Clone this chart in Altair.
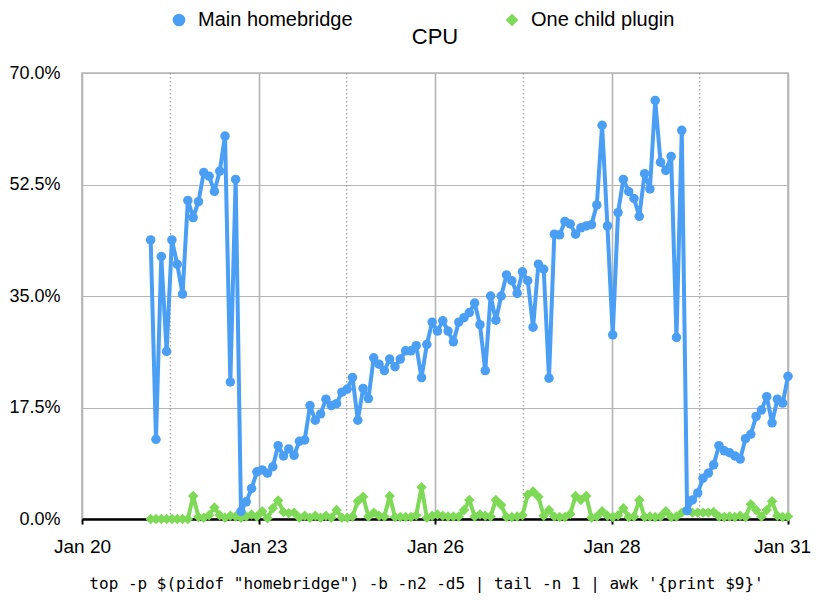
import altair as alt
import pandas as pd

# ---- data ----
series_names = ["Main homebridge", "One child plugin"]
series_colors = ["#4A9FF5", "#7ED957"]

# samples: first sample ~Jan 21 01:40, one sample every ~2 hours up to Jan 31 00:00
start_day = 1.07          # days after Jan 20 00:00
step_day = 0.08275        # ~2 hours

main_cpu = [
    43.8, 12.5, 41.2, 26.3, 43.8, 40.0, 35.3, 50.0, 47.3, 49.8,
    54.4, 53.8, 51.4, 54.6, 60.1, 21.5, 53.3, 1.2, 2.7, 4.8,
    7.4, 7.7, 7.2, 8.2, 11.5, 9.9, 11.0, 10.0, 12.2, 12.4,
    17.8, 15.5, 16.5, 18.8, 17.8, 18.1, 19.9, 20.4, 22.2, 15.5,
    20.5, 18.9, 25.3, 24.3, 23.3, 25.1, 23.9, 25.1, 26.4, 26.4,
    27.2, 22.2, 27.4, 30.9, 29.5, 31.1, 29.5, 27.8, 30.9, 31.6,
    32.4, 33.9, 30.5, 23.3, 35.0, 31.2, 35.0, 38.3, 37.4, 35.4,
    38.8, 37.4, 30.1, 40.0, 39.2, 22.1, 44.7, 44.6, 46.7, 46.3,
    44.7, 45.7, 46.0, 46.2, 49.3, 61.8, 46.0, 28.9, 48.1, 53.3,
    51.4, 50.3, 47.5, 54.2, 51.8, 65.7, 56.0, 54.7, 56.9, 28.5,
    61.0, 1.3, 3.0, 4.1, 6.4, 7.2, 8.5, 11.5, 10.7, 10.4,
    9.9, 9.4, 12.6, 13.3, 16.1, 17.1, 19.2, 15.1, 18.8, 18.2,
    22.4,
]

child_cpu = [
    0.0, 0.0, 0.0, 0.0, 0.0, 0.0, 0.0, 0.0, 3.6, 0.3,
    0.2, 0.6, 1.8, 0.6, 0.2, 0.5, 0.4, 0.2, 0.4, 0.7,
    0.4, 1.2, 0.1, 1.7, 2.9, 1.1, 0.9, 1.0, 0.2, 0.5,
    0.2, 0.5, 0.2, 0.5, 0.2, 1.4, 0.2, 0.2, 0.4, 2.8,
    3.5, 0.4, 1.0, 0.5, 0.4, 3.6, 0.3, 0.3, 0.3, 0.3,
    0.6, 5.0, 0.2, 0.5, 0.7, 0.5, 0.4, 0.4, 0.4, 1.4,
    3.0, 0.4, 0.7, 0.5, 0.4, 3.0, 2.2, 0.3, 0.3, 0.4,
    0.6, 3.8, 4.3, 3.5, 0.5, 1.4, 0.4, 0.3, 0.3, 0.8,
    3.6, 3.0, 3.6, 0.2, 0.4, 1.2, 0.5, 0.3, 0.6, 1.7,
    0.3, 0.4, 3.0, 0.3, 0.4, 0.3, 0.4, 1.2, 0.3, 0.4,
    1.0, 1.4, 1.0, 1.0, 1.0, 1.0, 1.1, 0.4, 0.3, 0.4,
    0.3, 0.5, 0.3, 2.3, 1.4, 0.4, 1.4, 2.8, 0.5, 0.3,
    0.4,
]

x_tick_values = [0, 2.75, 5.5, 8.25, 11]
x_tick_labels = ["Jan 20", "Jan 23", "Jan 26", "Jan 28", "Jan 31"]
x_minor_ticks = [1.375, 4.125, 6.875, 9.625]
y_tick_values = [0, 17.5, 35, 52.5, 70]

chart_title = "CPU"
x_title = "top -p $(pidof \"homebridge\") -b -n2 -d5 | tail -n 1 | awk '{print $9}'"

# ---- build tables ----
rows = []
for name, vals in zip(series_names, [main_cpu, child_cpu]):
    for i, v in enumerate(vals):
        rows.append({"series": name, "day": start_day + i * step_day, "cpu": v})
df = pd.DataFrame(rows)
minor_df = pd.DataFrame({"day": x_minor_ticks})

label_js = "[" + ",".join("'" + s + "'" for s in x_tick_labels) + "]"

x_enc = alt.X(
    "day:Q",
    scale=alt.Scale(domain=[0, 11], nice=False, zero=False),
    axis=alt.Axis(
        values=x_tick_values,
        labelExpr=label_js + "[round(datum.value / 2.75)]",
        labelFlush=False,
        labelOffset={"condition": {"test": "datum.value >= 11", "value": -6}, "value": 0},
        title=x_title,
        titleFont="DejaVu Sans Mono",
        titleFontSize=16,
        titleFontWeight="normal",
        titleColor="#000000",
        titlePadding=19,
        titleX=344,
        labelFontSize=19,
        labelColor="#000000",
        labelPadding=13,
        tickSize=5,
        tickWidth=2,
        tickColor="#000000",
        domainColor="#000000",
        domainWidth=2.5,
        grid=True,
        gridColor="#b5b5b5",
        gridWidth=1.6,
    ),
)
y_enc = alt.Y(
    "cpu:Q",
    scale=alt.Scale(domain=[0, 70], nice=False),
    axis=alt.Axis(
        values=y_tick_values,
        labelExpr="format(datum.value, '.1f') + '%'",
        title=None,
        domain=False,
        ticks=False,
        labelFontSize=18,
        labelColor="#000000",
        labelPadding=22,
        grid=True,
        gridColor="#b5b5b5",
        gridWidth=1.2,
    ),
)
color_enc = alt.Color(
    "series:N",
    scale=alt.Scale(domain=series_names, range=series_colors),
    title=None,
)
shape_enc = alt.Shape(
    "series:N",
    scale=alt.Scale(domain=series_names, range=["circle", "diamond"]),
    title=None,
)

minor_rules = alt.Chart(minor_df).mark_rule(
    color="#8a8a8a", strokeWidth=1, strokeDash=[1.5, 2.5]
).encode(x=alt.X("day:Q"))

base = alt.Chart(df)

def series_layers(name, size):
    sub = base.transform_filter(alt.datum.series == name)
    line = sub.mark_line(strokeWidth=4, strokeJoin="round").encode(
        x=x_enc, y=y_enc, color=color_enc
    )
    pts = sub.mark_point(filled=True, opacity=1, size=size).encode(
        x=x_enc, y=y_enc, color=color_enc, shape=shape_enc
    )
    return [line, pts]

layers = [minor_rules] + series_layers(series_names[1], 110) + series_layers(series_names[0], 90)

chart = alt.layer(*layers).properties(
    width=706,
    height=446,
    title=alt.TitleParams(
        chart_title, fontSize=22, font="Liberation Sans", fontWeight="normal",
        anchor="middle", offset=-61, baseline="bottom", color="#000000",
    ),
    autosize=alt.AutoSizeParams(type="none"),
    padding={"left": 74, "top": 65, "right": 24, "bottom": 79},
).configure(
    font="Liberation Sans",
).configure_view(
    stroke="#b5b5b5", strokeWidth=1.6,
).configure_axis(
    labelFont="Liberation Sans",
).configure_legend(
    orient="none",
    direction="horizontal",
    legendX=87,
    legendY=-63,
    labelFontSize=20,
    labelFont="Liberation Sans",
    labelColor="#000000",
    symbolSize=160,
    labelOffset=9,
    columnPadding=149,
    padding=0,
    symbolStrokeWidth=0,
)

chart.save("out.html", embed_options={"renderer": "svg", "actions": False})
